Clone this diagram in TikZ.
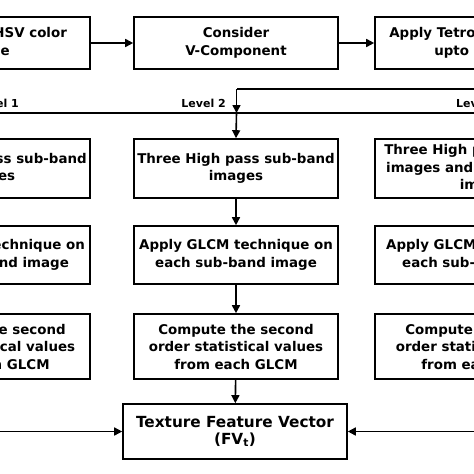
\documentclass[tikz,border=0pt]{standalone}
\usepackage{fontspec}
\setmainfont{DejaVu Sans}
\usetikzlibrary{arrows.meta}
\begin{document}
\begin{tikzpicture}[x=1pt,y=-1pt,
  box/.style={draw,line width=1.6pt,minimum width=204pt,align=center,
    font=\bfseries\fontsize{13.4}{17.5}\selectfont,inner sep=0pt},
  wbox/.style={box,minimum width=216pt},
  arr/.style={line width=1.6pt,-{Triangle[length=8pt,width=8pt]}},
  ln/.style={line width=1.6pt},
  lvl/.style={font=\bfseries\fontsize{11}{13}\selectfont,inner sep=0pt}]
\useasboundingbox (0,0) rectangle (474,474);
\clip (0,0) rectangle (474,474);
% top row
\node[box,minimum height=52pt] (hsv) at (-12,43) {Convert to HSV color\\space};
\node[box,minimum height=52pt] (cons) at (236,43) {Consider\\V-Component};
\node[wbox,minimum height=52pt] (tet) at (483,43) {Apply Tetrolet Transform\\upto 3 levels};
% row 2
\node[box,minimum height=59pt] (hp1) at (-12,168.5) {Three High pass sub-band\\images};
\node[box,minimum height=59pt] (hp2) at (236,168.5) {Three High pass sub-band\\images};
\node[wbox,minimum height=59pt] (hp3) at (483,168.5) {Three High pass sub-band\\images and one Low pass\\image};
% row 3
\node[box,minimum height=58pt] (gl1) at (-12,255) {Apply GLCM technique on\\each sub-band image};
\node[box,minimum height=58pt] (gl2) at (236,255) {Apply GLCM technique on\\each sub-band image};
\node[wbox,minimum height=58pt] (gl3) at (483,255) {Apply GLCM technique on\\each sub-band image};
% row 4
\node[box,minimum height=65pt] (st1) at (-12,346.5) {Compute the second\\order statistical values\\from each GLCM};
\node[box,minimum height=65pt] (st2) at (236,346.5) {Compute the second\\order statistical values\\from each GLCM};
\node[wbox,minimum height=65pt] (st3) at (483,346.5) {Compute the second\\order statistical values\\from each GLCM};
% feature vector
\node[box,minimum width=224pt,minimum height=55pt,font=\bfseries\fontsize{15.3}{17}\selectfont] (fv) at (235,431.5) {Texture Feature Vector\\(FV\textsubscript{t})};
% level labels
\node[lvl,anchor=base east] (lv1) at (19,107) {Level 1};
\node[lvl,anchor=base east] (lv2) at (226,107) {Level 2};
\node[lvl,anchor=base west] (lv3) at (456,107) {Level 3};
% connectors
\coordinate (l2) at (236.5,89);
\coordinate (sp) at (236.5,113);
\coordinate (la) at (-40,113);
\coordinate (ra) at (520,113);
\draw[arr] (hsv.east) -- (cons.west);
\draw[arr] (cons.east) -- (tet.west);
\draw[ln] (tet.south) |- (l2);
\draw[arr] (l2) -- (sp);
\draw[ln] (la) -- (ra);
\draw[arr] (sp) -- (hp2.north);
\draw[arr] (hp2) -- (gl2);
\draw[arr] (gl2) -- (st2);
\draw[arr] (st2) -- (fv);
\draw[arr] (st1.south) |- (fv.west);
\draw[arr] (st3.south) |- (fv.east);
\end{tikzpicture}
\end{document}
